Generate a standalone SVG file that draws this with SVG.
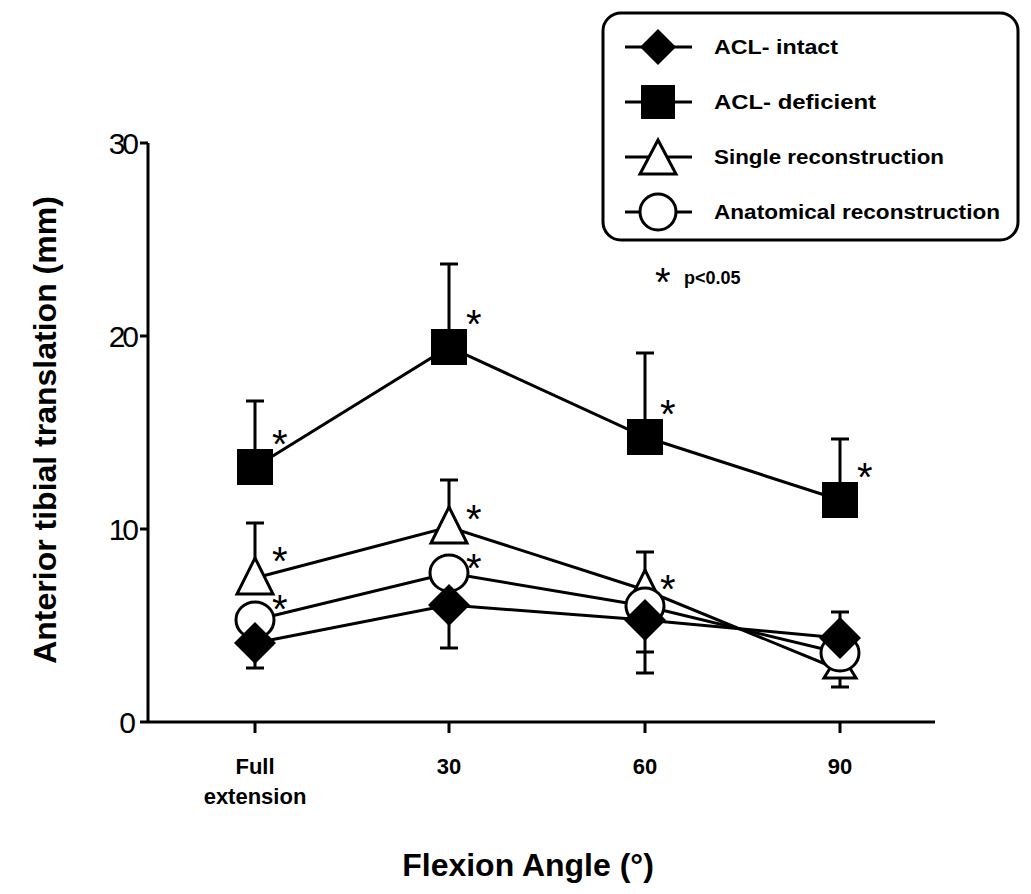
<svg xmlns="http://www.w3.org/2000/svg" width="1031" height="894" viewBox="0 0 1031 894">
<style>
.ax{stroke:#000;stroke-width:3;fill:none}
.ln{stroke:#000;stroke-width:3;fill:none}
.eb{stroke:#000;stroke-width:3;fill:none}
.t{font-family:"Liberation Sans",Arial,sans-serif;fill:#000}
.b{font-weight:bold}
.st{font-family:"Liberation Sans",Arial,sans-serif;font-size:40px;fill:#000}
.w{fill:#fff;stroke:#000;stroke-width:3}
</style>
<rect width="1031" height="894" fill="#fff"/>
<g id="axes">
<path class="ax" d="M148,143V722H935M140,143H148M140,336H148M140,529H148M140,722H148M255,722V733M449,722V733M645,722V733M840,722V733"/>
<text class="t" x="136" y="154" font-size="30" text-anchor="end" letter-spacing="-3">30</text>
<text class="t" x="136" y="347" font-size="30" text-anchor="end" letter-spacing="-3">20</text>
<text class="t" x="136" y="540" font-size="30" text-anchor="end" letter-spacing="-3">10</text>
<text class="t" x="136" y="733" font-size="30" text-anchor="end">0</text>
<text class="t b" x="255" y="774" font-size="22" text-anchor="middle">Full</text>
<text class="t b" x="255" y="804" font-size="22" text-anchor="middle">extension</text>
<text class="t b" x="449" y="774" font-size="22" text-anchor="middle">30</text>
<text class="t b" x="645" y="774" font-size="22" text-anchor="middle">60</text>
<text class="t b" x="840" y="774" font-size="22" text-anchor="middle">90</text>
<text class="t b" x="528" y="876" font-size="32" text-anchor="middle">Flexion Angle (°)</text>
<text class="t b" transform="translate(56,430) rotate(-90)" font-size="32" text-anchor="middle">Anterior tibial translation (mm)</text>
</g>
<g id="connectors">
<path class="eb" d="M255,467V401M246,401H264M449,347V264M440,264H458M645,437V353M636,353H654M840,500V439M831,439H849"/>
<path class="eb" d="M255,578V523M246,523H264M449,527V480M440,480H458M645,590V552M636,552H654M840,670V687M831,687H849"/>
<path class="eb" d="M255,643V668M246,668H264M449,605V648M440,648H458M645,620V673M636,673H654M645,620V652M636,652H654M840,638V612M831,612H849"/>
<polyline class="ln" points="255,467 449,347 645,437 840,500"/>
<polyline class="ln" points="255,578 449,527 645,590 840,670"/>
<polyline class="ln" points="255,620 449,573 645,606 840,653"/>
<polyline class="ln" points="255,643 449,605 645,620 840,638"/>
</g>
<g id="markers">
<rect x="237" y="449" width="36" height="36"/><rect x="431" y="329" width="36" height="36"/><rect x="627" y="419" width="36" height="36"/><rect x="822" y="482" width="36" height="36"/>
<polygon class="w" points="255,558 273,594 237,594"/><polygon class="w" points="449,507 467,543 431,543"/><polygon class="w" points="645,570 663,606 627,606"/><polygon class="w" points="840,652 856,678 824,678"/>
<ellipse class="w" cx="255" cy="620" rx="19" ry="18"/><ellipse class="w" cx="449" cy="573" rx="19" ry="18"/><ellipse class="w" cx="645" cy="606" rx="19" ry="18"/><ellipse class="w" cx="840" cy="653" rx="19" ry="18"/>
<polygon points="255,622 276,643 255,664 234,643"/><polygon points="449,584 470,605 449,626 428,605"/><polygon points="645,599 666,620 645,641 624,620"/><polygon points="840,617 861,638 840,659 819,638"/>
</g>
<g id="stars">
<text class="st" x="272" y="458">*</text><text class="st" x="466" y="338">*</text><text class="st" x="660" y="428">*</text><text class="st" x="857" y="491">*</text>
<text class="st" x="272" y="575">*</text><text class="st" x="466" y="533">*</text><text class="st" x="272" y="623">*</text><text class="st" x="466" y="582">*</text><text class="st" x="660" y="603">*</text>
<text class="st" x="655" y="296">*</text><text class="t b" x="684" y="284" font-size="18">p&lt;0.05</text>
</g>
<g id="legend">
<rect x="603" y="13" width="415" height="227" rx="18" fill="#fff" stroke="#000" stroke-width="3"/>
<path class="ln" d="M625,47H692M625,102H692M625,157H692M625,212H692"/>
<polygon points="658,29 676,47 658,65 640,47"/>
<rect x="641" y="85" width="34" height="34"/>
<polygon class="w" points="658,140 676,174 640,174"/>
<circle class="w" cx="658" cy="212" r="18"/>
<text class="t b" x="714" y="54" font-size="20" textLength="124" lengthAdjust="spacingAndGlyphs">ACL- intact</text>
<text class="t b" x="714" y="109" font-size="20" textLength="162" lengthAdjust="spacingAndGlyphs">ACL- deficient</text>
<text class="t b" x="714" y="164" font-size="20" textLength="230" lengthAdjust="spacingAndGlyphs">Single reconstruction</text>
<text class="t b" x="714" y="219" font-size="20" textLength="286" lengthAdjust="spacingAndGlyphs">Anatomical reconstruction</text>
</g>
</svg>
